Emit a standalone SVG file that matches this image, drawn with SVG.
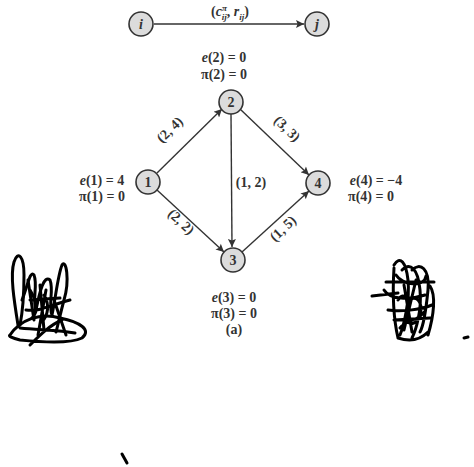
<svg xmlns="http://www.w3.org/2000/svg" width="474" height="467" viewBox="0 0 474 467">
<style>
.node circle{fill:#dcdcdc;stroke:#333;stroke-width:1.6}
.node text{font-family:"Liberation Serif",serif;font-size:14px;font-weight:bold;fill:#333;text-anchor:middle}
.lbl{font-family:"Liberation Serif",serif;font-size:14px;font-weight:bold;fill:#333;text-anchor:middle}
.edge{stroke:#333;stroke-width:1.4;fill:none;marker-end:url(#ah)}
.scr{stroke:#000;stroke-width:3;fill:none;stroke-linecap:round;stroke-linejoin:round}
</style>
<defs>
<marker id="ah" viewBox="0 0 10 10" refX="10" refY="5" markerWidth="10" markerHeight="8" markerUnits="userSpaceOnUse" orient="auto">
<path d="M0,0 L10,5 L0,10 L2,5 Z" fill="#333"/>
</marker>
</defs>
<rect width="474" height="467" fill="#fff"/>
<g id="connectors">
<line class="edge" x1="154" y1="24" x2="304" y2="24"/>
<line class="edge" x1="157" y1="173" x2="222" y2="109"/>
<line class="edge" x1="240" y1="109" x2="309" y2="175"/>
<line class="edge" x1="231" y1="114" x2="232" y2="247"/>
<line class="edge" x1="157" y1="190" x2="224" y2="252"/>
<line class="edge" x1="242" y1="252" x2="309" y2="191"/>
<text class="lbl" x="230" y="16">(<tspan font-style="italic">c</tspan><tspan font-size="9" dy="-5" font-style="italic">π</tspan><tspan font-size="9" dx="-5" dy="9" font-style="italic">ij</tspan><tspan dy="-4">, </tspan><tspan font-style="italic">r</tspan><tspan font-size="9" dy="4" font-style="italic">ij</tspan><tspan dy="-4">)</tspan></text>
<text class="lbl" transform="translate(173,133) rotate(-44)">(2, 4)</text>
<text class="lbl" transform="translate(284,132) rotate(44)">(3, 3)</text>
<text class="lbl" x="251" y="187">(1, 2)</text>
<text class="lbl" transform="translate(178,225) rotate(43)">(2, 2)</text>
<text class="lbl" transform="translate(286,232) rotate(-43)">(1, 5)</text>
</g>
<g id="node-i" class="node"><circle cx="141" cy="24" r="12"/><text x="141" y="29" font-style="italic">i</text></g>
<g id="node-j" class="node"><circle cx="317" cy="24" r="12"/><text x="317" y="29" font-style="italic">j</text></g>
<g id="node-1" class="node"><circle cx="148" cy="182" r="12"/><text x="148" y="187">1</text>
<text x="102" y="185"><tspan font-style="italic">e</tspan>(1) = 4</text><text x="102" y="201">π(1) = 0</text></g>
<g id="node-2" class="node"><circle cx="231" cy="102" r="12"/><text x="231" y="107">2</text>
<text x="224" y="62"><tspan font-style="italic">e</tspan>(2) = 0</text><text x="224" y="79">π(2) = 0</text></g>
<g id="node-3" class="node"><circle cx="233" cy="260" r="12"/><text x="233" y="265">3</text>
<text x="234" y="302"><tspan font-style="italic">e</tspan>(3) = 0</text><text x="234" y="318">π(3) = 0</text><text x="234" y="334">(a)</text></g>
<g id="node-4" class="node"><circle cx="318" cy="183" r="12"/><text x="318" y="188">4</text>
<text x="376" y="185"><tspan font-style="italic">e</tspan>(4) = −4</text><text x="371" y="201">π(4) = 0</text></g>
<g id="scribbles">
<path class="scr" d="M18,325 C14,300 10,275 14,262 C18,250 24,256 24,275 C24,300 22,315 20,325"/>
<path class="scr" d="M22,300 C28,285 30,270 34,275 C38,285 32,300 36,310 C40,290 44,275 50,280 C54,290 48,305 52,315 C56,295 58,275 62,265 C66,258 70,280 64,300 C60,315 58,325 56,332"/>
<path class="scr" d="M28,280 L34,320 M40,285 L44,330 M30,300 L60,298 M26,310 C40,312 50,305 70,300 M46,290 L38,335 M54,300 L66,335 M30,290 C36,300 40,310 32,318 M44,295 C50,305 48,315 42,322"/>
<path class="scr" d="M10,335 C20,320 40,312 60,318 C80,322 92,330 82,338 C70,344 40,342 20,340 C12,338 8,336 10,335 M20,328 C40,330 60,330 75,333 M30,345 C40,335 50,325 62,320"/>
<path class="scr" d="M372,296 L398,293 M394,268 C392,300 395,325 398,338 M394,265 C400,255 406,262 408,280 C410,300 404,325 400,335 M402,270 C410,262 418,268 420,290 C422,310 416,330 412,338 M412,270 C420,262 430,268 428,290 C426,310 424,325 420,332 M384,290 C390,300 410,300 425,295 M388,310 C400,312 420,310 432,305 M398,338 C410,342 420,340 428,332 M430,286 C436,295 434,315 428,335 M386,282 L434,282 M404,285 L412,332 M416,280 L404,330 M394,320 L430,318 M398,300 C404,290 412,300 408,315 C404,325 416,328 420,315 C424,300 414,295 410,300 M396,275 C402,285 424,288 426,276 M400,328 C408,318 418,322 424,312"/>
<path class="scr" d="M464,338 L468,337"/>
<path class="scr" d="M122,454 L127,463"/>
</g>
</svg>
